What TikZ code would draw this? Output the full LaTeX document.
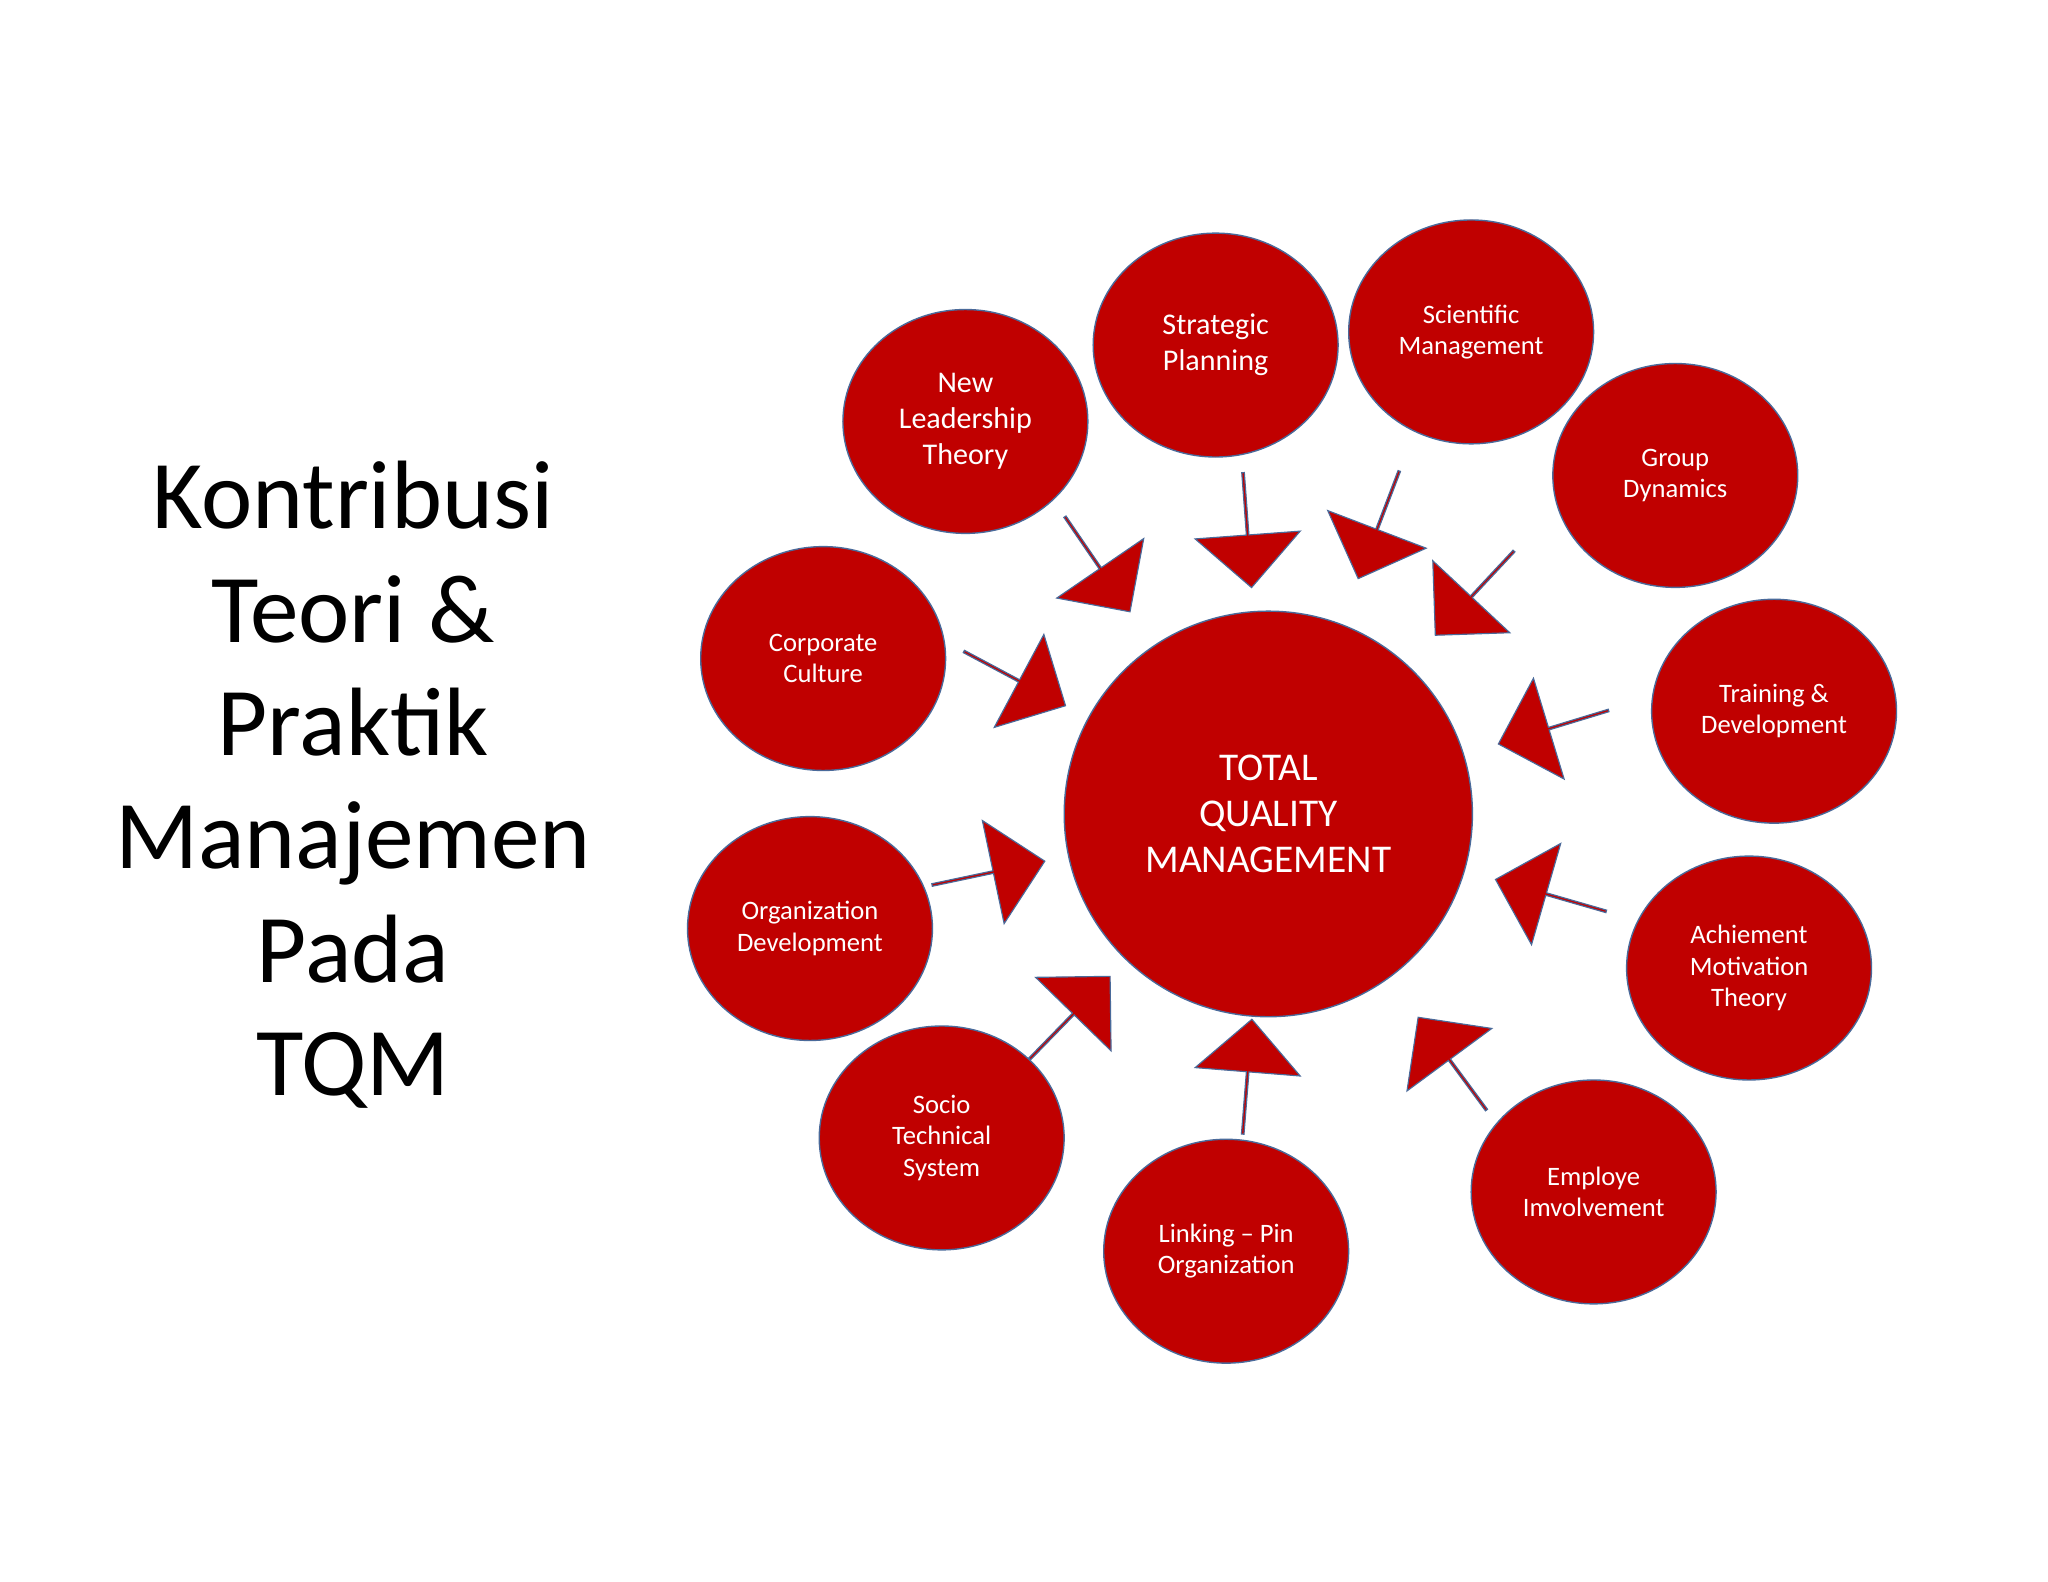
\documentclass[tikz,border=0pt]{standalone}
\usepackage{fontspec}
\setmainfont{Carlito}
\usetikzlibrary{shapes.geometric,shapes.arrows}
\definecolor{tqmred}{HTML}{C00000}
\definecolor{edge}{HTML}{4A6A9A}
\tikzset{
  bub/.style={ellipse,fill=tqmred,draw=edge,line width=0.6pt,minimum width=3.72cm,minimum height=3.4cm,inner sep=0pt,text=white,align=center,font=\fontsize{11.5}{13.5}\selectfont},
  blockarrow/.style={single arrow,fill=tqmred,draw=edge,line width=0.5pt,minimum height=1.75cm,minimum width=1.6cm,single arrow head extend=0.35cm,single arrow head indent=0pt,inner sep=0pt}
}
\newcommand{\blockarr}[3]{\node[blockarrow,rotate={atan2(-(618-#3),963-#2)}] (#1) at (#2,#3) {};}
\begin{document}
\begin{tikzpicture}[x=0.02cm,y=-0.02cm]
\useasboundingbox[fill=white] (0,0) rectangle (1555,1201);
\node[align=center,font=\fontsize{42}{49}\selectfont] (title) at (268,596) {Kontribusi\\Teori \&\\Praktik\\Manajemen\\Pada\\TQM};
\node[bub,minimum width=6.2cm,minimum height=6.16cm,font=\fontsize{17}{20}\selectfont] (tqm) at (963,618) {TOTAL\\QUALITY\\MANAGEMENT};
\node[bub,font=\fontsize{13}{15.5}\selectfont] (nl) at (733,320) {New\\Leadership\\Theory};
\node[bub,font=\fontsize{13}{15.5}\selectfont] (sp) at (923,262) {Strategic\\Planning};
\node[bub] (sm) at (1117,252) {Scientific\\Management};
\node[bub] (gd) at (1272,361) {Group\\Dynamics};
\node[bub] (td) at (1347,540) {Training \&\\Development};
\node[bub] (am) at (1328,735) {Achiement\\Motivation\\Theory};
\node[bub] (ei) at (1210,905) {Employe\\Imvolvement};
\node[bub] (lp) at (931,950) {Linking -- Pin\\Organization};
\node[bub] (st) at (715,864) {Socio\\Technical\\System};
\node[bub] (od) at (615,705) {Organization\\Development};
\node[bub] (cc) at (625,500) {Corporate\\Culture};
\blockarr{a1}{833}{428}
\blockarr{a2}{947}{402}
\blockarr{a3}{1047}{398}
\blockarr{a4}{1120}{450}
\blockarr{a5}{1180}{552}
\blockarr{a6}{1178}{680}
\blockarr{a7}{1103}{808}
\blockarr{a8}{947}{818}
\blockarr{a9}{812}{773}
\blockarr{a10}{750}{663}
\blockarr{a11}{770}{515}
\end{tikzpicture}
\end{document}
